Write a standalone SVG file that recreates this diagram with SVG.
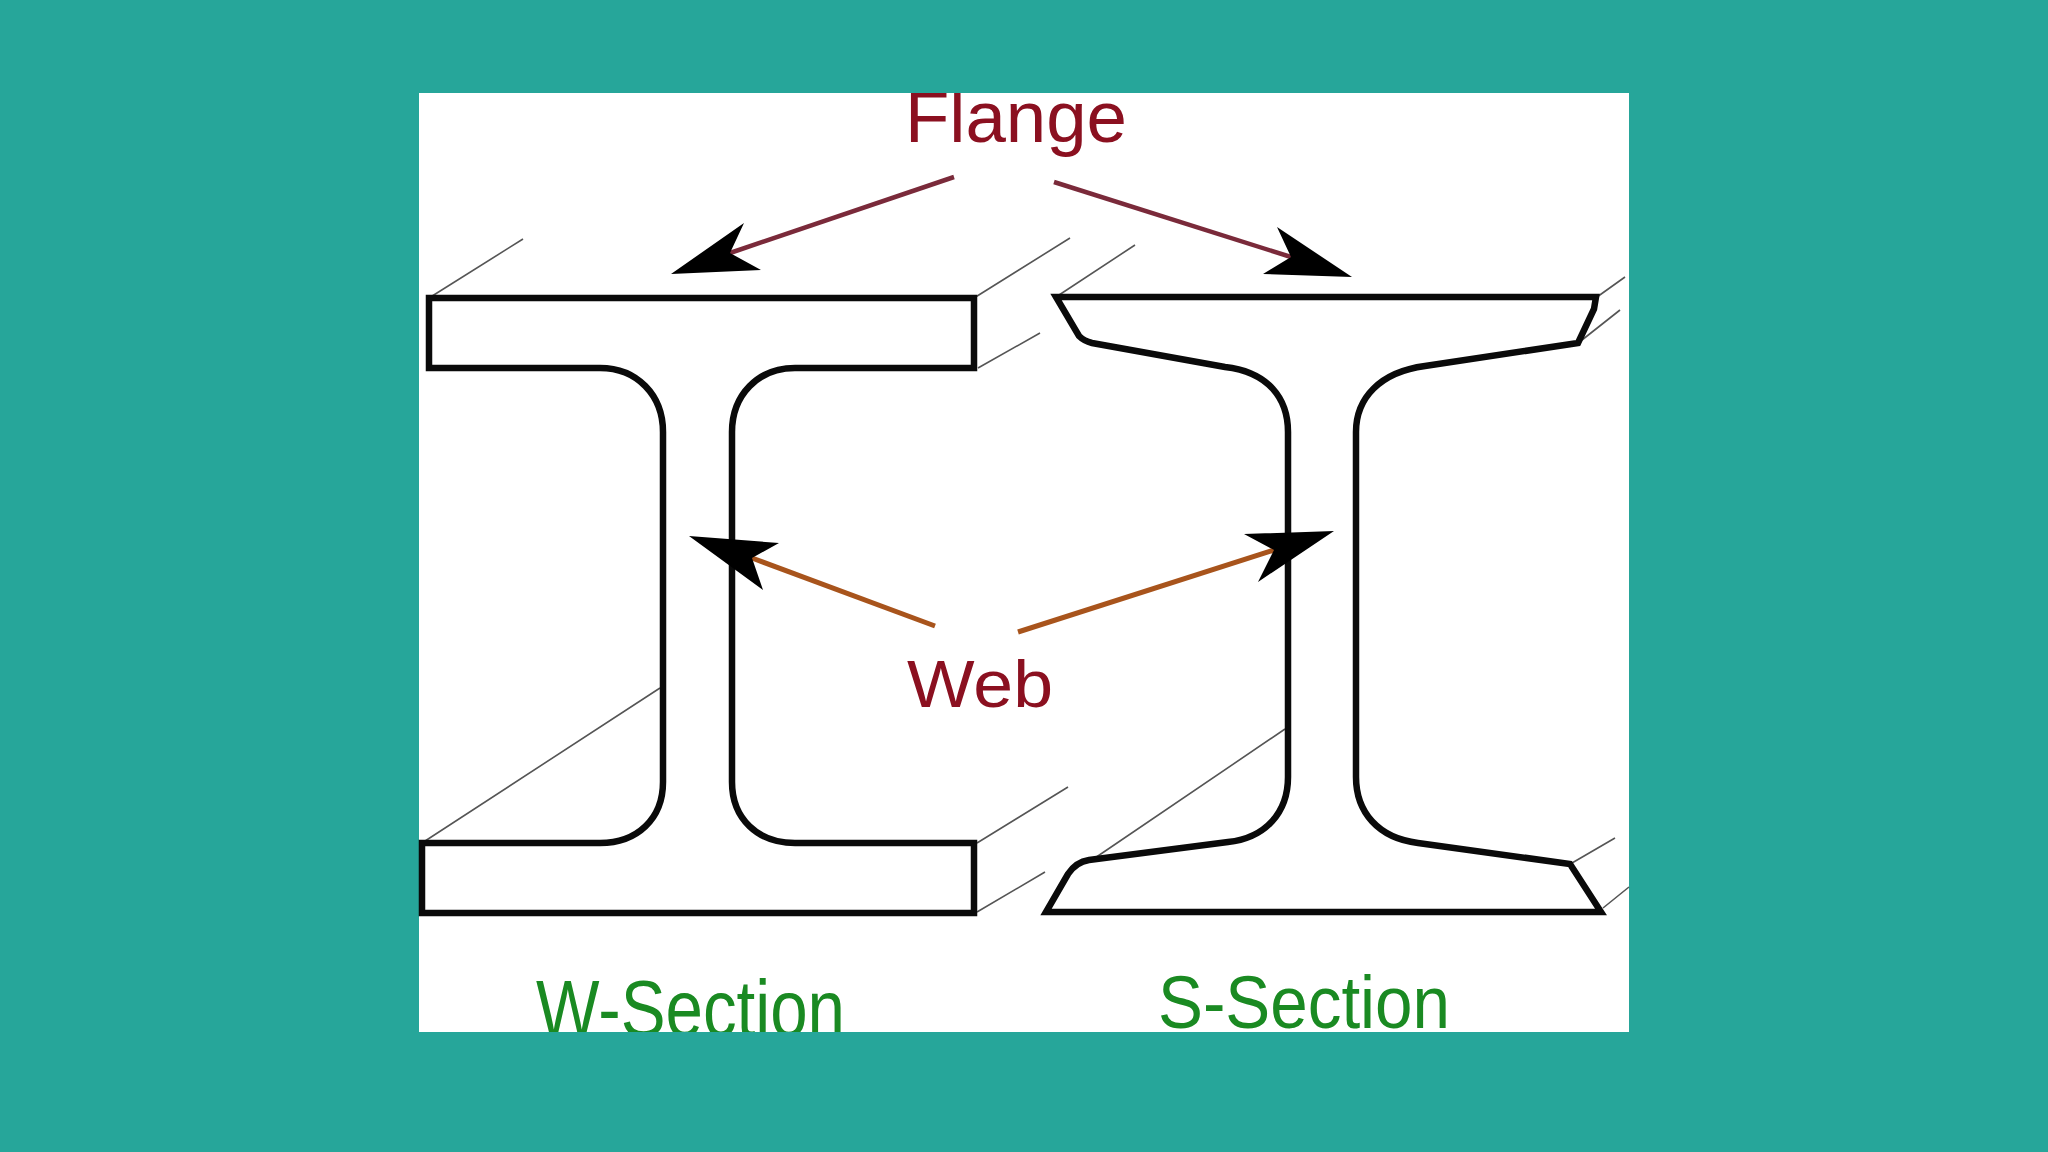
<svg xmlns="http://www.w3.org/2000/svg" width="2048" height="1152" viewBox="0 0 2048 1152">
<style>
.outline{fill:none;stroke:#0a0a0a;stroke-width:6.5;stroke-linejoin:miter}
.thin{fill:none;stroke:#555;stroke-width:1.6}
.head{fill:#000}
.fl{fill:none;stroke:#7a2a3a;stroke-width:4.5}
.wb{fill:none;stroke:#a8541c;stroke-width:5}
text{font-family:"Liberation Sans",Arial,sans-serif;font-size:72px}
.red{fill:#8b1020}
.green{fill:#1a8a22}
</style>
<defs><clipPath id="panel"><rect x="419" y="93" width="1210" height="939"/></clipPath></defs>
<rect width="2048" height="1152" fill="#26a69a"/>
<rect x="419" y="93" width="1210" height="939" fill="#fff"/>
<g id="w-section">
<path class="thin" d="M429 298L523 239M974 298L1070 238M978 368L1040 333M422 843L660 688M977 843L1068 787M977 912L1045 872"/>
<path class="outline" d="M429 298H974V368H795C758 368 732 395 732 432V782C732 819 758 843 795 843H974V913H422V843H600C637 843 663 819 663 782V432C663 395 637 368 600 368H429Z"/>
</g>
<g id="s-section">
<path class="thin" d="M1056 297L1135 245M1597 297L1625 277M1582 340L1620 310M1092 860L1285 729M1572 863L1615 838M1603 908L1629 887"/>
<path class="outline" d="M1056 297H1596L1594 309L1578 343L1425 366C1380 372 1356 398 1356 432V777C1356 812 1378 838 1418 843L1570 864L1601 912H1046L1068 874Q1076 862 1089 860L1228 842C1266 838 1288 812 1288 777V432C1288 398 1268 372 1225 367L1092 343Q1084 341 1079 336Z"/>
</g>
<g id="connectors">
<path class="fl" d="M954 177L730 253"/>
<polygon class="head" points="671,274 744,223 730,253 761,270"/>
<path class="fl" d="M1054 182L1291 257"/>
<polygon class="head" points="1352,277 1277,227 1291,257 1263,274"/>
<path class="wb" d="M935 626L752 558"/>
<polygon class="head" points="689,536 779,543 752,558 763,590"/>
<path class="wb" d="M1018 632L1274 550"/>
<polygon class="head" points="1334,531 1244,534 1274,550 1258,582"/>
</g>
<g id="label-flange" clip-path="url(#panel)"><text class="red" x="905" y="142" textLength="222" lengthAdjust="spacingAndGlyphs">Flange</text></g>
<g id="label-web"><text class="red" x="907" y="707" textLength="146" lengthAdjust="spacingAndGlyphs" style="font-size:66px">Web</text></g>
<g id="label-w-section" clip-path="url(#panel)"><text class="green" x="536" y="1036" textLength="309" lengthAdjust="spacingAndGlyphs" style="font-size:80px">W-Section</text></g>
<g id="label-s-section" clip-path="url(#panel)"><text class="green" x="1158" y="1028" textLength="292" lengthAdjust="spacingAndGlyphs" style="font-size:75px">S-Section</text></g>
</svg>
